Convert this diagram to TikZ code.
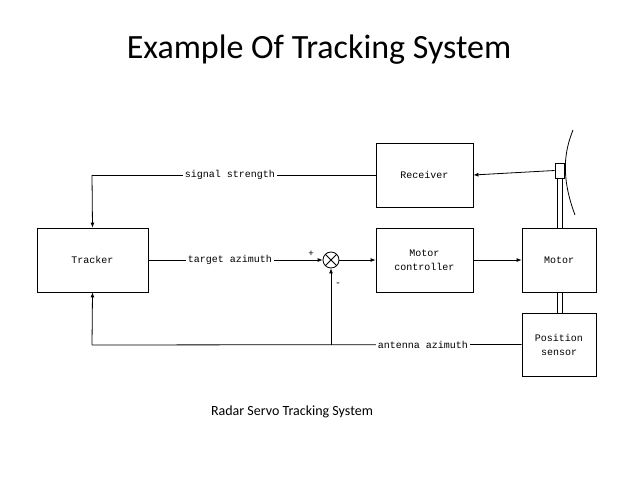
\documentclass[tikz,border=0pt]{standalone}
\usepackage{fontspec}
\setmainfont{Carlito}
\newfontfamily\monof{Liberation Mono}
\usetikzlibrary{arrows.meta}
\begin{document}
\begin{tikzpicture}[x=1pt,y=-1pt,
  blk/.style={draw,line width=0.8pt,font=\monof\fontsize{10}{12}\selectfont,align=center,inner sep=0pt},
  ln/.style={line width=0.8pt},
  arr/.style={ln,-{Latex[length=5pt,width=4pt]}},
  lbl/.style={fill=white,font=\monof\fontsize{10}{12}\selectfont,inner sep=2pt}]
\useasboundingbox (0,0) rectangle (638,478);
\node[font=\fontsize{34}{40}\selectfont] (title) at (319,50) {Example Of Tracking System};
\node[font=\fontsize{14}{16}\selectfont] (cap) at (292,412) {Radar Servo Tracking System};
\node[blk,minimum width=97pt,minimum height=64pt] (rec) at (424.5,175) {Receiver};
\node[blk,minimum width=97pt,minimum height=64pt] (mc) at (424.5,260) {Motor\\[2pt]controller};
\node[blk,minimum width=74pt,minimum height=64pt] (mot) at (559,260) {Motor};
\node[blk,minimum width=74pt,minimum height=63pt] (ps) at (559,344.5) {Position\\[2pt]sensor};
\node[blk,minimum width=111pt,minimum height=64pt] (tr) at (92.5,260) {Tracker};
\node[draw,circle,line width=0.8pt,minimum size=16pt,inner sep=0pt] (sum) at (331,260) {};
\draw[ln] (sum.45)--(sum.225) (sum.135)--(sum.315);
\node[draw,line width=0.8pt,minimum width=9pt,minimum height=15pt,inner sep=0pt] (feed) at (559.5,170.5) {};
% poles
\draw[ln] (557,178)--(557,228) (562,178)--(562,228);
\draw[ln] (557,292)--(557,313) (562,292)--(562,313);
% dish
\draw[ln] (573,130) .. controls (565,150) and (560,175) .. (575,215);
% signal strength
\coordinate (c1) at (92,175);
\draw[ln] (rec.west)--(c1);
\draw[arr] (c1)--(tr.north);
\node[lbl] (ss) at (230,175) {signal strength};
\draw[arr] (feed.west)--(rec.east);
% target azimuth
\draw[arr] (tr.east)--(sum.west);
\node[lbl] (ta) at (230,260) {target azimuth};
\node[font=\fontsize{10}{12}\selectfont] (plus) at (311,254) {+};
\node[font=\fontsize{11}{12}\selectfont] (minus) at (338,285) {-};
\draw[arr] (sum.east)--(mc.west);
\draw[arr] (mc.east)--(mot.west);
% antenna azimuth
\coordinate (c2) at (92,345);
\coordinate (c3) at (331,345);
\draw[ln] (ps.west)--(c2);
\draw[arr] (c2)--(tr.south);
\draw[arr] (c3)--(sum.south);
\node[lbl] (aa) at (423,345) {antenna azimuth};
\end{tikzpicture}
\end{document}
